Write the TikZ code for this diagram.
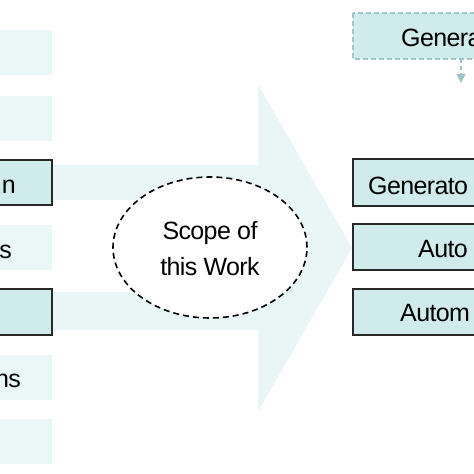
\documentclass[tikz,border=0pt]{standalone}
\usepackage{fontspec}
\setmainfont{Liberation Sans}[LetterSpace=-2.5]
\usetikzlibrary{arrows.meta,shapes.geometric}
\definecolor{solidfill}{RGB}{207,235,235}
\definecolor{faintfill}{RGB}{234,247,247}
\definecolor{arrowfill}{RGB}{232,246,246}
\definecolor{dashline}{RGB}{160,196,201}
\definecolor{boxline}{RGB}{40,40,40}
\begin{document}
\begin{tikzpicture}[x=1pt,y=-1pt,
  solidbox/.style={fill=solidfill,draw=boxline,line width=1.6pt},
  faintbox/.style={fill=faintfill,minimum width=62pt,minimum height=45pt,inner sep=0pt},
  dashbox/.style={fill=solidfill,draw=dashline,line width=1.2pt,dash pattern=on 5pt off 3pt},
  lbl/.style={font=\fontsize{25}{36}\selectfont,inner sep=0pt},
  flow/.style={fill=arrowfill}]
\useasboundingbox (0,0) rectangle (474,474);
\begin{scope}
\clip (0,0) rectangle (474,474);
% big arrow and bands
\fill[flow] (258,84) -- (352,248) -- (258,412) -- cycle;
\fill[flow] (52,165) rectangle (258,200);
\fill[flow] (52,292) rectangle (258,330);
% left faint boxes
\node[faintbox] (l1) at (21,52.5) {};
\node[faintbox] (l2) at (21,118.5) {};
\node[faintbox] (l4) at (21,247.5) {};
\node[faintbox] (l6) at (21,377) {};
\node[faintbox] (l7) at (21,441.5) {};
% left solid boxes
\draw[solidbox] (-20,160) rectangle (52,205);
\draw[solidbox] (-20,289) rectangle (52,335);
\node[lbl,anchor=base east] (t3) at (16,193) {n};
\node[lbl,anchor=base east] (t4) at (12,258) {s};
\node[lbl,anchor=base east] (t6) at (21,387) {ns};
% ellipse
\node[draw=black,fill=white,line width=1.6pt,dash pattern=on 6pt off 4pt,ellipse,minimum width=194pt,minimum height=141pt,inner sep=0pt] (scope) at (210,247.5) {};
\node[lbl,align=center] (scopet) at (210,248.5) {Scope of\\this Work};
% right boxes
\draw[dashbox] (353,13) rectangle (500,59);
\node[lbl,anchor=base west] (gtop) at (401,46) {Genera};
\coordinate (gbot) at (461,59);
\coordinate (gtip) at (461,83);
\draw[dashline,line width=1.2pt,dash pattern=on 4pt off 3pt,-{Triangle[width=9pt,length=9pt]}] (gbot) -- (gtip);
\draw[solidbox] (353,159) rectangle (500,206);
\node[lbl,anchor=base west] (r1) at (368,194) {Generato};
\draw[solidbox] (353,224) rectangle (500,270);
\node[lbl,anchor=base west] (r2) at (418,257) {Auto};
\draw[solidbox] (353,289) rectangle (500,335);
\node[lbl,anchor=base west] (r3) at (400,321) {Autom};
\end{scope}
\end{tikzpicture}
\end{document}
